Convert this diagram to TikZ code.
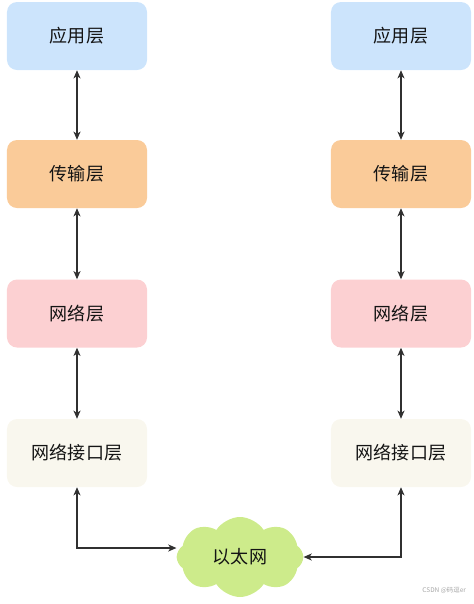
\documentclass[tikz,border=0pt]{standalone}
\usepackage{fontspec}
\setmainfont{Noto Sans CJK SC}
\usepackage{tikz}
\usetikzlibrary{shapes.symbols,arrows.meta}

\definecolor{appblue}{HTML}{CCE4FC}
\definecolor{transorange}{HTML}{FACB99}
\definecolor{netpink}{HTML}{FCD0D2}
\definecolor{ifcream}{HTML}{F9F7EE}
\definecolor{cloudgreen}{HTML}{CDEB8B}
\definecolor{linegray}{HTML}{303030}

\tikzset{
  layer/.style={rounded corners=0.3cm, minimum width=4.2cm, minimum height=2.04cm,
    font=\fontsize{15.4}{18}\selectfont, text=black!92},
  link/.style={draw=linegray, line width=0.9pt, {Stealth[length=7pt,width=6pt,inset=2pt]}-{Stealth[length=7pt,width=6pt,inset=2pt]}}
}

\begin{document}
\begin{tikzpicture}[x=0.03cm, y=-0.03cm]
\useasboundingbox (0,0) rectangle (474,604);
% left stack
\node[layer, fill=appblue] (app1) at (77,36) {应用层};
\node[layer, fill=transorange] (trans1) at (77,174) {传输层};
\node[layer, fill=netpink] (net1) at (77,313.5) {网络层};
\node[layer, fill=ifcream] (if1) at (77,453) {网络接口层};
% right stack
\node[layer, fill=appblue] (app2) at (401,36) {应用层};
\node[layer, fill=transorange] (trans2) at (401,174) {传输层};
\node[layer, fill=netpink] (net2) at (401,313.5) {网络层};
\node[layer, fill=ifcream] (if2) at (401,453) {网络接口层};
% ethernet
\node[cloud, cloud puffs=8, cloud puff arc=115, aspect=1.55, fill=cloudgreen,
  minimum width=3.8cm, minimum height=2.4cm, inner sep=0pt,
  font=\fontsize{15.4}{18}\selectfont, text=black!92] (eth) at (240,557) {以太网};

\draw[link] (app1) -- (trans1);
\draw[link] (trans1) -- (net1);
\draw[link] (net1) -- (if1);
\draw[link] (app2) -- (trans2);
\draw[link] (trans2) -- (net2);
\draw[link] (net2) -- (if2);
\draw[link] (if1.south) |- ([yshift=0.27cm]eth.west);
\draw[link] (if2.south) |- (eth.east);

\node[text=black!35, font=\fontsize{5.5}{6}\selectfont, anchor=east] (mark) at (470,590) {CSDN @码逗er};
\end{tikzpicture}
\end{document}
